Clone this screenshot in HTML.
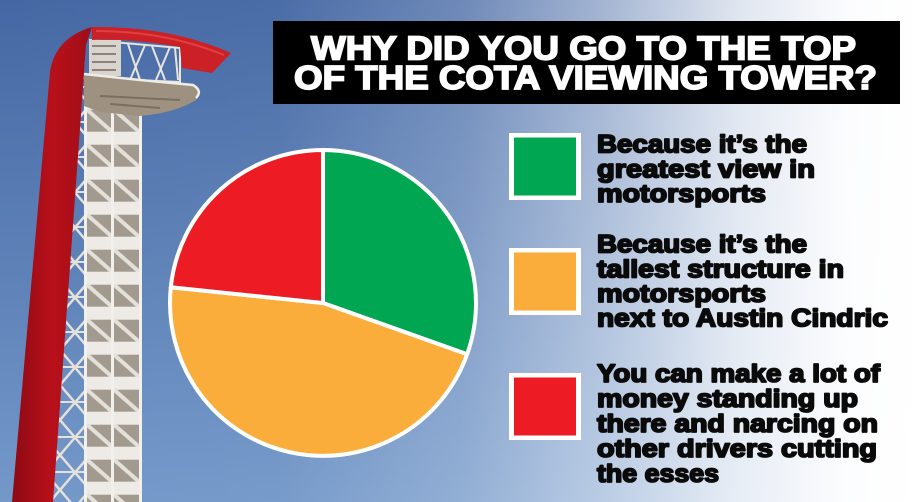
<!DOCTYPE html>
<html><head><meta charset="utf-8">
<style>
html,body{margin:0;padding:0;width:922px;height:502px;overflow:hidden;background:#fff}
svg{display:block}
.t{font-family:"Liberation Sans",Arial,sans-serif;font-weight:bold}
</style></head><body>
<svg width="922" height="502" viewBox="0 0 922 502" xmlns="http://www.w3.org/2000/svg">
<defs>
<linearGradient id="sky" x1="0" y1="0" x2="0" y2="1">
<stop offset="0" stop-color="#4568a4"/>
<stop offset="1" stop-color="#7398c9"/>
</linearGradient>
<linearGradient id="fade" x1="0" y1="0" x2="1" y2="0">
<stop offset="0" stop-color="#fff" stop-opacity="0"/>
<stop offset="0.3" stop-color="#fff" stop-opacity="0.03"/>
<stop offset="0.5" stop-color="#fff" stop-opacity="0.22"/>
<stop offset="0.65" stop-color="#fff" stop-opacity="0.5"/>
<stop offset="0.8" stop-color="#fff" stop-opacity="0.83"/>
<stop offset="0.92" stop-color="#fff" stop-opacity="0.98"/>
<stop offset="1" stop-color="#fff" stop-opacity="1"/>
</linearGradient>
<linearGradient id="red" x1="0" y1="0" x2="1" y2="0">
<stop offset="0" stop-color="#8e0a14"/>
<stop offset="0.5" stop-color="#b8101a"/>
<stop offset="1" stop-color="#a00e18"/>
</linearGradient>
<pattern id="balc" patternUnits="userSpaceOnUse" x="84" y="26.7" width="58" height="35">
<rect x="0" y="0" width="58" height="35" fill="#a39a8f"/>
<rect x="0" y="0" width="58" height="13" fill="#eeebe6"/>
<path d="M3,13 L28,35 M30,13 L55,35" stroke="#e4e0da" stroke-width="4"/>
<rect x="0" y="0" width="3" height="35" fill="#f2f0ec"/>
<rect x="27" y="0" width="3" height="35" fill="#f2f0ec"/>
<rect x="55" y="0" width="3" height="35" fill="#f2f0ec"/>
</pattern>
<pattern id="brace" patternUnits="userSpaceOnUse" x="0" y="0" width="30" height="35">
<path d="M0,35 L30,0 M0,0 L30,35" stroke="#e4e0da" stroke-width="2.5"/>
<path d="M0,17 L30,17" stroke="#e4e0da" stroke-width="2"/>
</pattern>
</defs>

<!-- background -->
<rect width="922" height="502" fill="url(#sky)"/>
<rect width="922" height="502" fill="url(#fade)"/>

<!-- tower -->
<path d="M86,45 L84,45 L84,502 L53,502 Z" fill="url(#brace)"/>
<rect x="84" y="98" width="58" height="404" fill="url(#balc)"/>
<path d="M92,27 Q55,38 50,72 L12,502 L53,502 L86,45 Z" fill="url(#red)"/>
<!-- upper lattice under canopy -->
<path d="M90,40 L180,48 L180,82 L90,78 Z" fill="none" stroke="#e8e4de" stroke-width="2"/>
<path d="M100,42 L115,78 M120,44 L105,78 M128,44 L140,80 M145,45 L130,80 M152,46 L165,80 M170,47 L156,80 M175,48 L178,80" stroke="#e8e4de" stroke-width="2"/>
<rect x="89" y="40" width="32" height="36" fill="#d9d4cd"/>
<path d="M92,46 h24 M92,54 h24 M92,62 h24 M92,70 h24" stroke="#8a8278" stroke-width="2"/>
<!-- canopy -->
<path d="M92,27 Q170,26 231,53 L212,73 L182,68 L180,47 Q130,38 92,40 Z" fill="#cc2027"/>
<path d="M96,31 Q165,31 224,55" stroke="#e04040" stroke-width="2" fill="none"/>
<!-- platform -->
<path d="M84,74 L140,80 L193,85 Q203,91 196,100 Q175,113 140,116 L100,112 L84,106 Z" fill="#9e9180"/>
<path d="M84,74 L140,80 L193,85 Q203,91 196,98" stroke="#efece6" stroke-width="2.5" fill="none"/>
<path d="M100,96 L180,100 M110,104 L160,108" stroke="#7a6e5e" stroke-width="2"/>

<!-- title box -->
<rect x="273" y="21" width="627" height="83" fill="#000"/>
<text class="t" x="311" y="59.3" font-size="33" fill="#fff" stroke="#fff" stroke-width="1.7" textLength="545" lengthAdjust="spacingAndGlyphs">WHY DID YOU GO TO THE TOP</text>
<text class="t" x="294" y="89" font-size="33" fill="#fff" stroke="#fff" stroke-width="1.7" textLength="583" lengthAdjust="spacingAndGlyphs">OF THE COTA VIEWING TOWER?</text>

<!-- pie -->
<g stroke="#fff" stroke-width="4" stroke-linejoin="round">
<path d="M323,303 L323,150 A153,153 0 0 1 467.1,354.3 Z" fill="#00a651"/>
<path d="M323,303 L467.1,354.3 A153,153 0 0 1 170.8,287.3 Z" fill="#fbad3c"/>
<path d="M323,303 L170.8,287.3 A153,153 0 0 1 323,150 Z" fill="#ed1c24"/>
</g>

<!-- legend squares -->
<rect x="509" y="133" width="72" height="67" fill="#fff"/>
<rect x="514" y="137.5" width="62" height="58" fill="#00a651"/>
<rect x="509" y="248" width="72" height="67" fill="#fff"/>
<rect x="514" y="252.5" width="62" height="58" fill="#fbad3c"/>
<rect x="509" y="373" width="72" height="67" fill="#fff"/>
<rect x="514" y="377.5" width="62" height="58" fill="#ed1c24"/>

<!-- legend text -->
<g class="t" font-size="25" fill="#0a0a0a" stroke="#0a0a0a" stroke-width="1.8" stroke-linejoin="round">
<text x="597" y="152.5" textLength="210" lengthAdjust="spacingAndGlyphs">Because it’s the</text>
<text x="597" y="177.5" textLength="218" lengthAdjust="spacingAndGlyphs">greatest view in</text>
<text x="597" y="202" textLength="169" lengthAdjust="spacingAndGlyphs">motorsports</text>

<text x="597" y="252.5" textLength="210" lengthAdjust="spacingAndGlyphs">Because it’s the</text>
<text x="597" y="277.5" textLength="247" lengthAdjust="spacingAndGlyphs">tallest structure in</text>
<text x="597" y="302" textLength="169" lengthAdjust="spacingAndGlyphs">motorsports</text>
<text x="597" y="326.5" textLength="291" lengthAdjust="spacingAndGlyphs">next to Austin Cindric</text>

<text x="597" y="382" textLength="283" lengthAdjust="spacingAndGlyphs">You can make a lot of</text>
<text x="597" y="407" textLength="261" lengthAdjust="spacingAndGlyphs">money standing up</text>
<text x="597" y="432" textLength="281" lengthAdjust="spacingAndGlyphs">there and narcing on</text>
<text x="597" y="457" textLength="280" lengthAdjust="spacingAndGlyphs">other drivers cutting</text>
<text x="597" y="482" textLength="122" lengthAdjust="spacingAndGlyphs">the esses</text>
</g>
</svg>
</body></html>
